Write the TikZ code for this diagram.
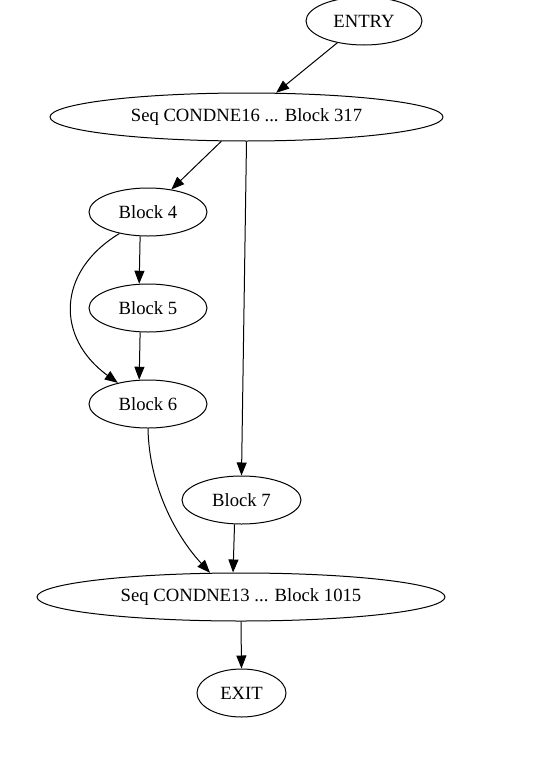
\documentclass[tikz,border=0pt]{standalone}
\usepackage{fontspec}
\setmainfont{Liberation Serif}
\usetikzlibrary{shapes.geometric,arrows.meta}

\tikzset{every picture/.style={line width=0.75pt}}
\tikzset{
	blk/.style={ellipse, draw, inner sep=0pt, minimum height=36pt, font=\fontsize{14}{16}\selectfont},
	edge/.style={draw, -{Triangle[length=9.75pt,width=7.5pt]}},
}

\begin{document}
\begin{tikzpicture}[x=0.75pt,y=0.75pt,yscale=-1,xscale=1]
	\useasboundingbox (0,0) rectangle (547,760);

	% Nodes
	\node [blk, minimum width=87pt] (entry) at (364,21) {ENTRY};
	\node [blk, minimum width=294.75pt] (seqa) at (246.5,117) {Seq CONDNE16 ... Block 317};
	\node [blk, minimum width=88.5pt] (b4) at (148,212) {Block 4};
	\node [blk, minimum width=88.5pt] (b5) at (148,308) {Block 5};
	\node [blk, minimum width=88.5pt] (b6) at (148,404) {Block 6};
	\node [blk, minimum width=89.25pt] (b7) at (241.5,500) {Block 7};
	\node [blk, minimum width=306pt] (seqb) at (241,597) {Seq CONDNE13 ... Block 1015};
	\node [blk, minimum width=66.75pt] (exit) at (241.5,693) {EXIT};

	% Edges
	\path [edge] (entry) -- (seqa);
	\path [edge] (seqa) -- (b4);
	\path [edge] (seqa.270) -- (b7.90);
	\path [edge] (b4.252) -- (b5.110);
	\path [edge] (b4.217) .. controls (56,272) and (56,338) .. (b6.145);
	\path [edge] (b5.252) -- (b6.110);
	\path [edge] (b6.270) .. controls (149,485) and (175,535) .. (seqb.142);
	\path [edge] (b7.254) -- (seqb.108);
	\path [edge] (seqb.270) -- (exit.90);

\end{tikzpicture}
\end{document}
